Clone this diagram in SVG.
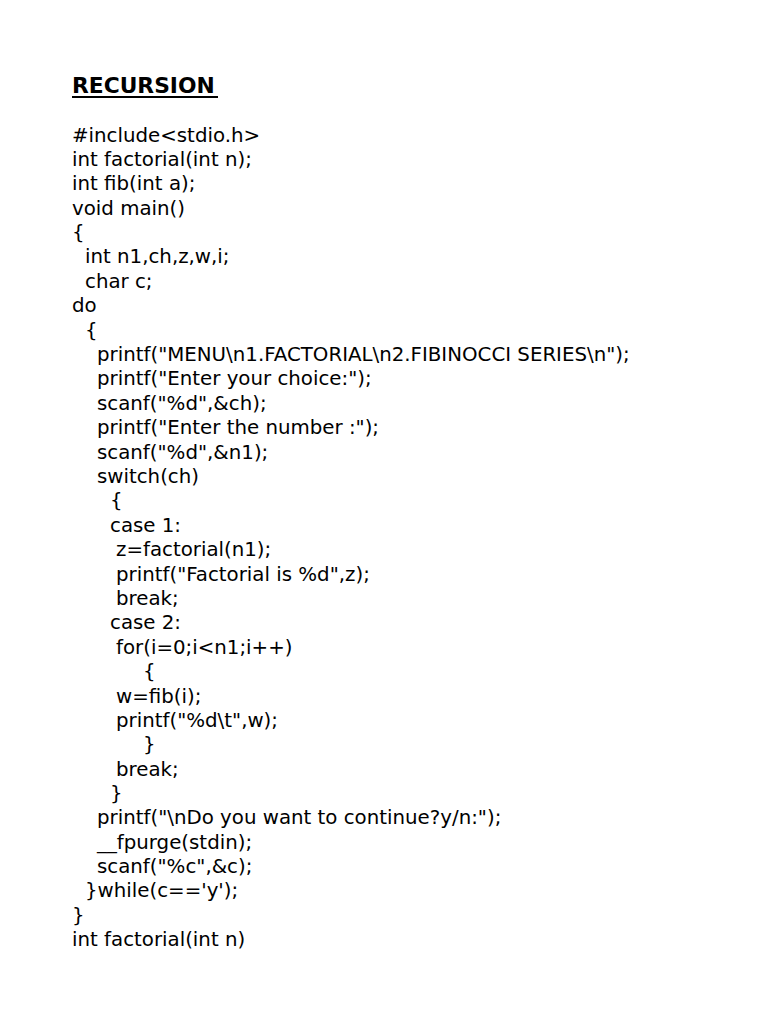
<svg xmlns="http://www.w3.org/2000/svg" width="768" height="1024" viewBox="0 0 768 1024">
<style>
text{font-family:"DejaVu Sans",sans-serif;font-size:19.8px;fill:#000}
.t{font-weight:bold;font-size:21.8px}
</style>
<rect width="768" height="1024" fill="#fff"/>
<text class="t" x="72" y="93">RECURSION</text>
<rect x="72" y="96" width="146" height="2" fill="#000"/>
<text x="72" y="142">#include&lt;stdio.h&gt;</text>
<text x="72" y="166">int factorial(int n);</text>
<text x="72" y="190">int fib(int a);</text>
<text x="72" y="215">void main()</text>
<text x="72" y="239">{</text>
<text x="85" y="263">int n1,ch,z,w,i;</text>
<text x="85" y="288">char c;</text>
<text x="72" y="312">do</text>
<text x="85" y="337">{</text>
<text x="97" y="361">printf("MENU\n1.FACTORIAL\n2.FIBINOCCI SERIES\n");</text>
<text x="97" y="385">printf("Enter your choice:");</text>
<text x="97" y="410">scanf("%d",&amp;ch);</text>
<text x="97" y="434">printf("Enter the number :");</text>
<text x="97" y="459">scanf("%d",&amp;n1);</text>
<text x="97" y="483">switch(ch)</text>
<text x="110" y="507">{</text>
<text x="110" y="532">case 1:</text>
<text x="116" y="556">z=factorial(n1);</text>
<text x="116" y="581">printf("Factorial is %d",z);</text>
<text x="116" y="605">break;</text>
<text x="110" y="629">case 2:</text>
<text x="116" y="654">for(i=0;i&lt;n1;i++)</text>
<text x="143" y="678">{</text>
<text x="116" y="703">w=fib(i);</text>
<text x="116" y="727">printf("%d\t",w);</text>
<text x="143" y="751">}</text>
<text x="116" y="776">break;</text>
<text x="110" y="800">}</text>
<text x="97" y="824">printf("\nDo you want to continue?y/n:");</text>
<text x="97" y="849">__fpurge(stdin);</text>
<text x="97" y="873">scanf("%c",&amp;c);</text>
<text x="85" y="897">}while(c=='y');</text>
<text x="72" y="922">}</text>
<text x="72" y="946">int factorial(int n)</text>
</svg>
